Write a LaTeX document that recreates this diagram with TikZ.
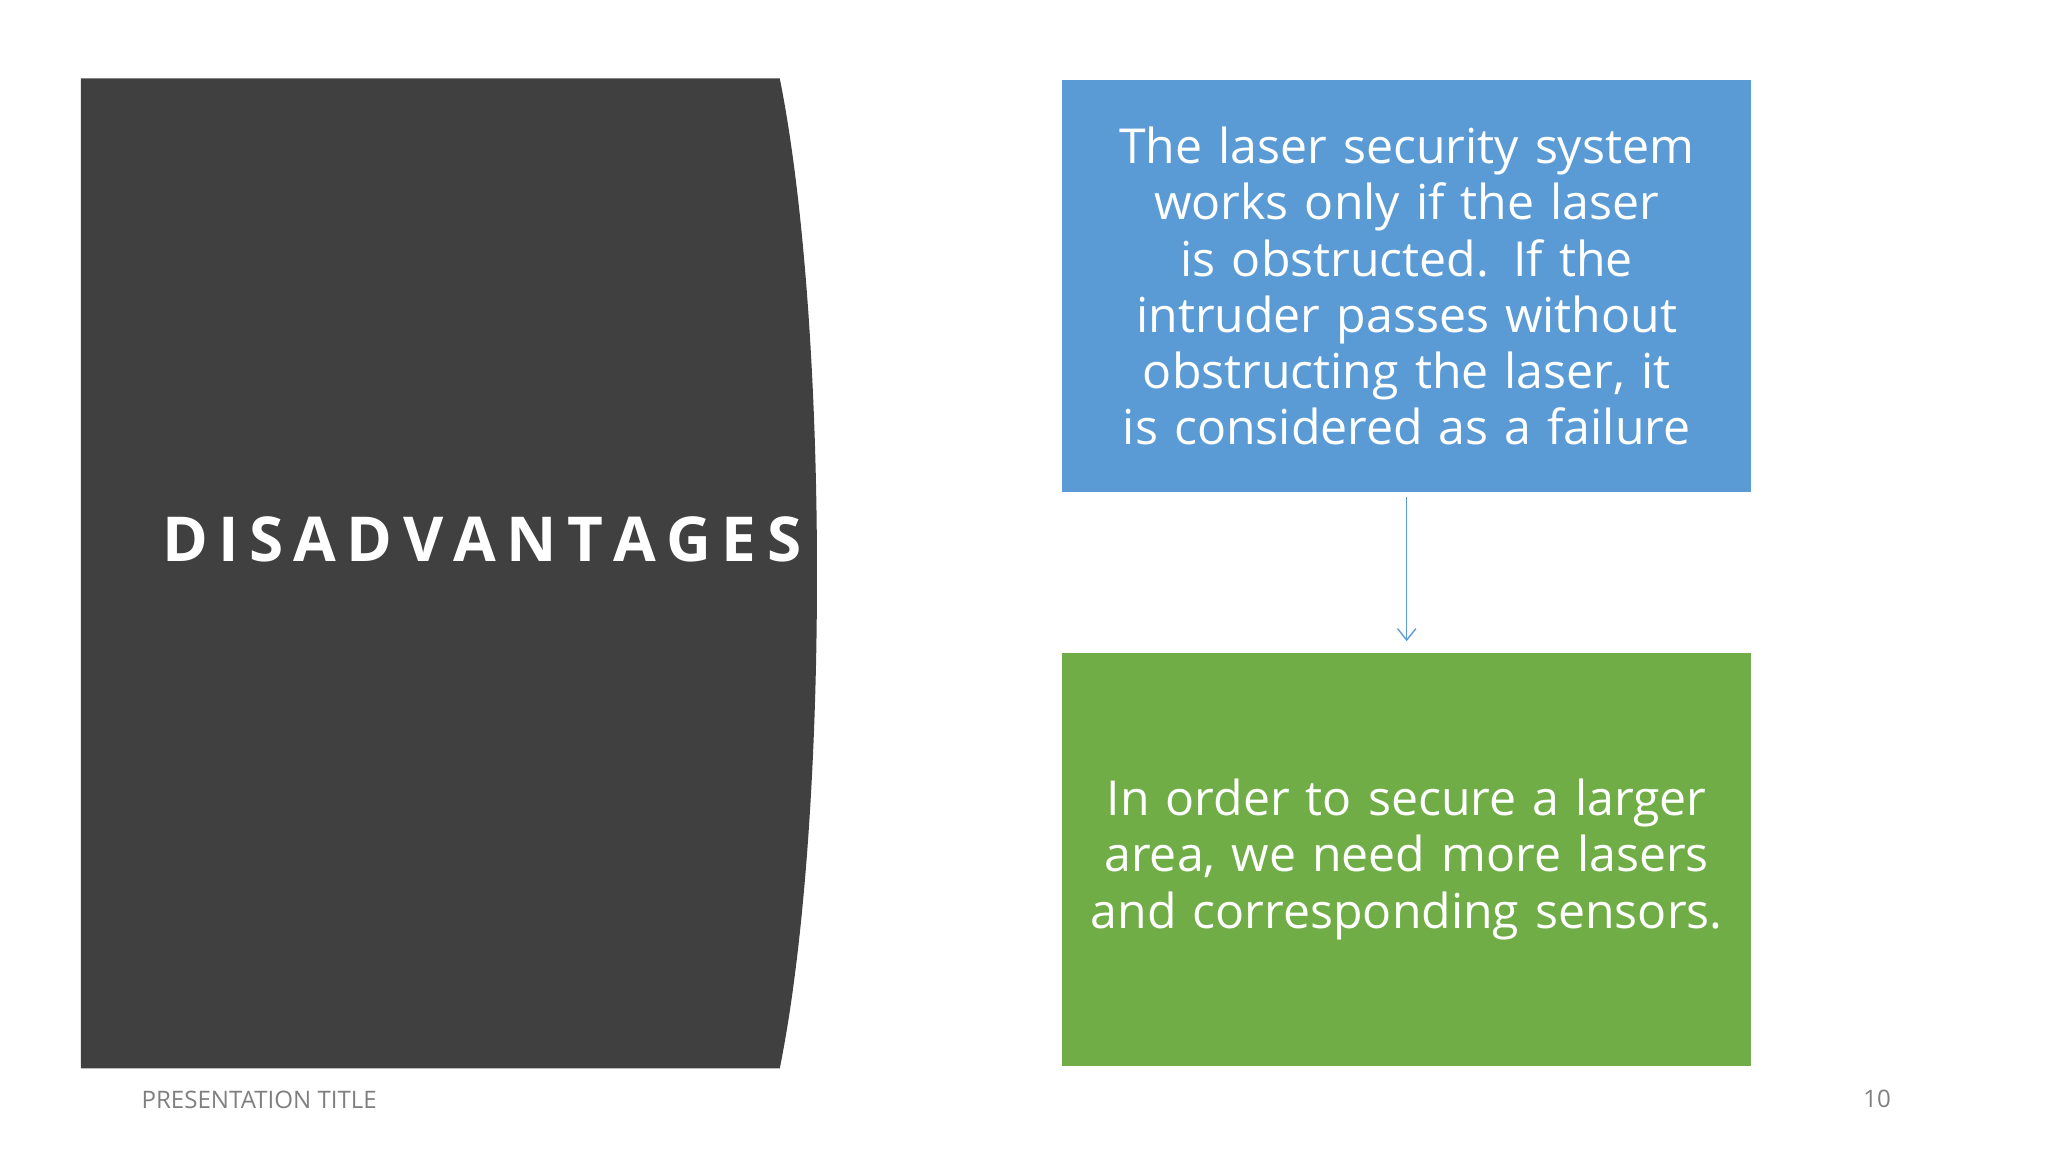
\documentclass[tikz,border=0pt]{standalone}
\usepackage{fontspec}
\setmainfont{Open Sans}
\usetikzlibrary{arrows.meta}
\definecolor{darkbg}{HTML}{404040}
\definecolor{bluebox}{HTML}{5B9BD5}
\definecolor{greenbox}{HTML}{70AD47}
\definecolor{foot}{HTML}{7F7F7F}
\tikzset{
  box/.style={minimum width=10.56cm, minimum height=6.32cm, inner sep=0pt, text=white, align=center, text width=9.8cm, font=\fontsize{21}{24.5}\selectfont},
  foottext/.style={text=foot, font=\fontsize{10.5}{12}\selectfont, inner sep=0pt}
}
\begin{document}
\begin{tikzpicture}[x=0.02cm,y=-0.02cm]
\useasboundingbox (0,0) rectangle (1568,882);
\fill[darkbg] (62,60) -- (597,60) .. controls (635,250) and (635,630) .. (597,818) -- (62,818) -- cycle;
\node[font=\bfseries\fontsize{27}{30}\selectfont, text=white, anchor=west, inner sep=0pt] (title) at (124,413) {D\,I\,S\,A\,D\,V\,A\,N\,T\,A\,G\,E\,S};
\node[box, fill=bluebox] (b1) at (1077,219) {The laser security system works only if the laser is obstructed. If the intruder passes without obstructing the laser, it is considered as a failure};
\node[box, fill=greenbox] (b2) at (1077,658) {In order to secure a larger area, we need more lasers and corresponding sensors.};
\draw[bluebox, line width=0.6pt, -{Straight Barb[length=5pt,width=8pt]}] ([yshift=-2pt]b1.south) -- ([yshift=5pt]b2.north);
\node[foottext, anchor=west] (ft) at (108,842) {PRESENTATION TITLE};
\node[foottext, anchor=east] (pn) at (1448,841) {10};
\end{tikzpicture}
\end{document}
